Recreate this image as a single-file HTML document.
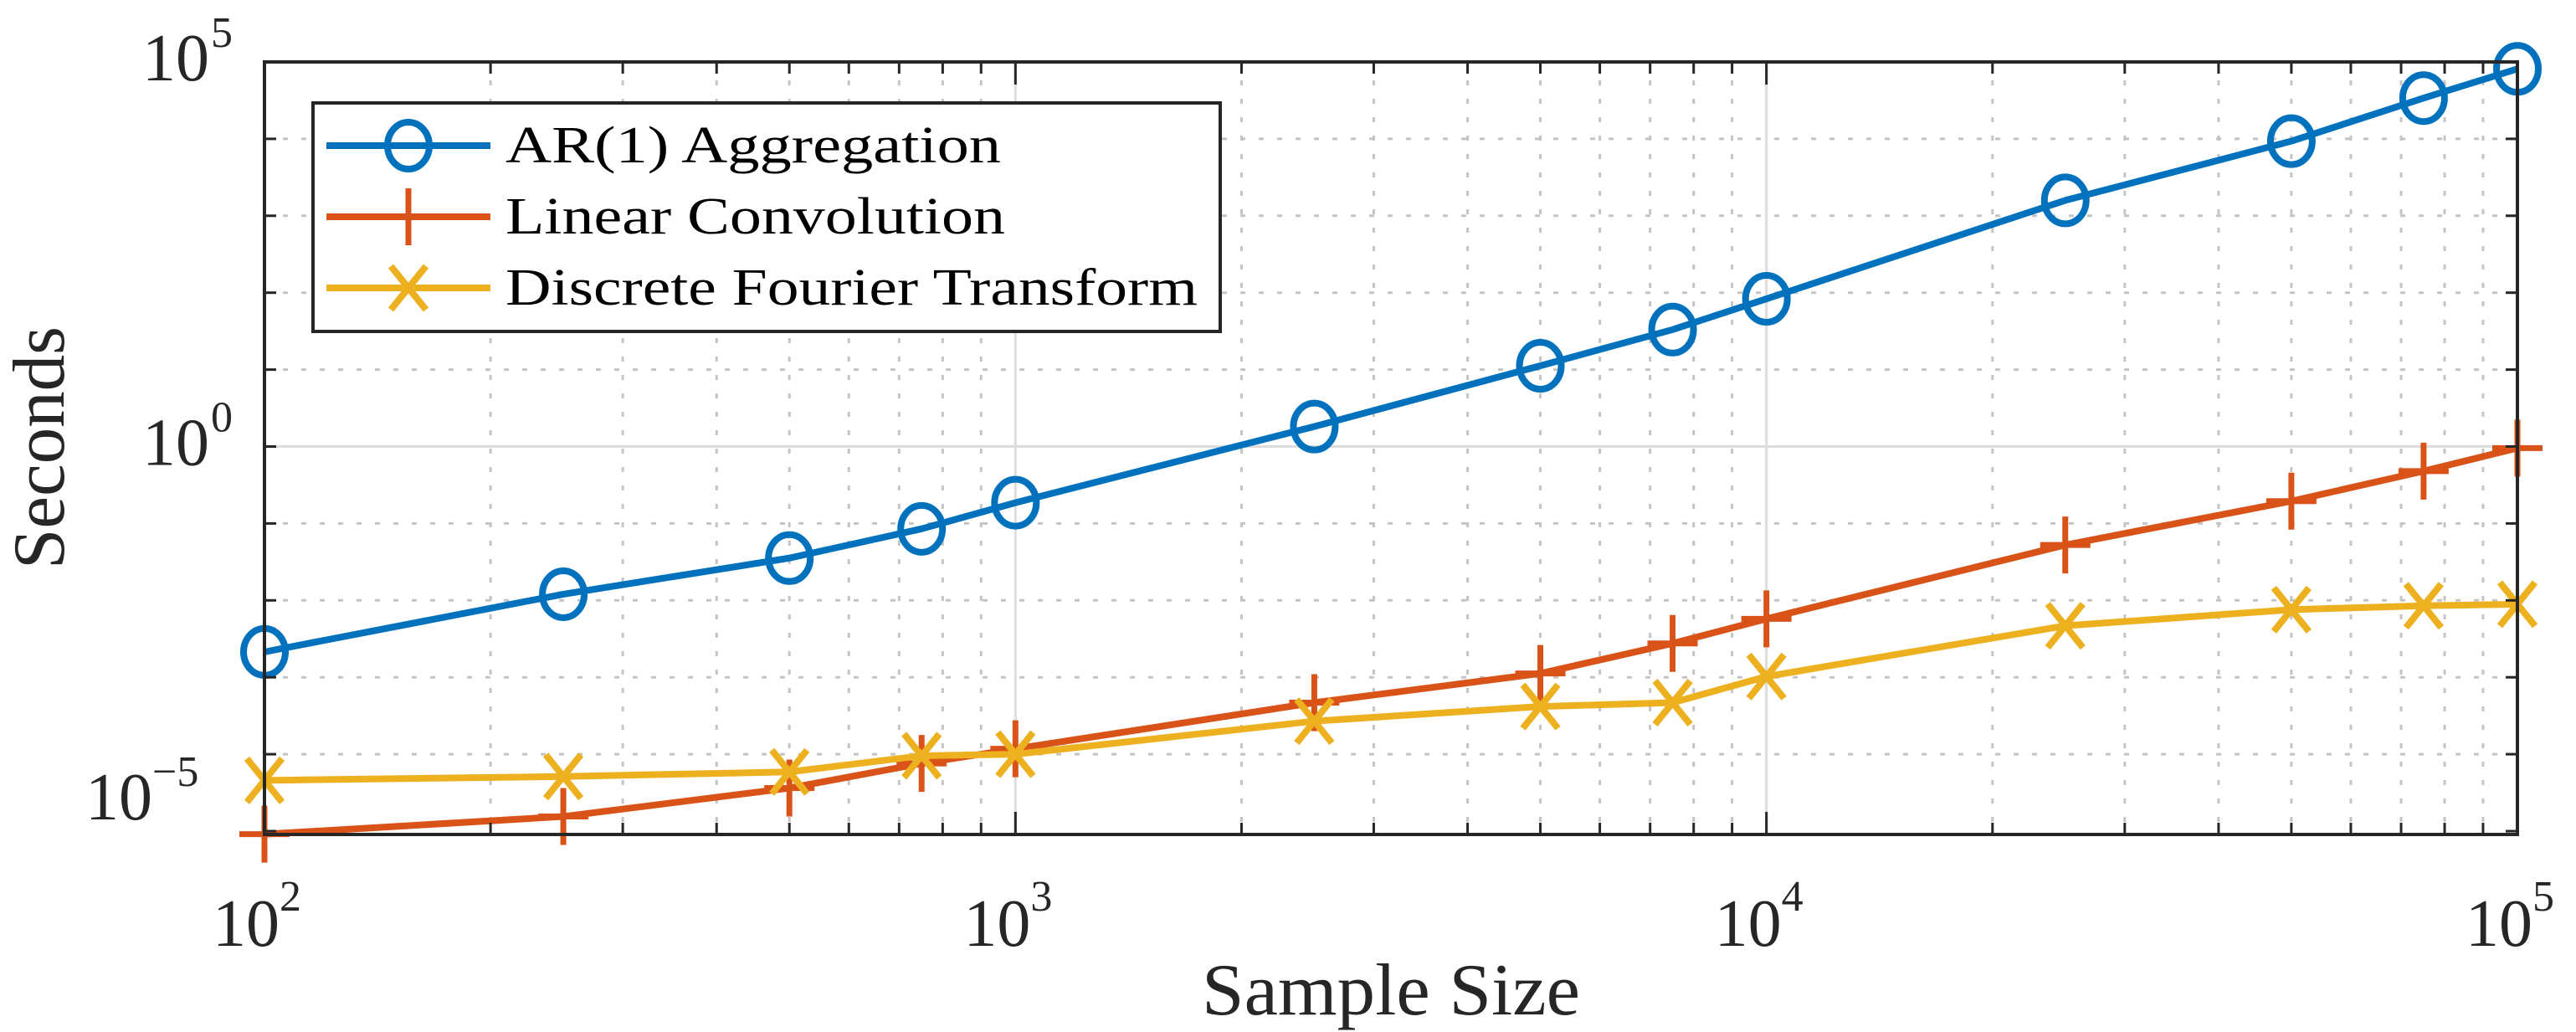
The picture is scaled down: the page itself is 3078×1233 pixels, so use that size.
<!DOCTYPE html>
<html><head><meta charset="utf-8"><style>body{margin:0;background:#fff}svg{display:block}</style></head>
<body>
<svg id="chart" width="3078" height="1233" viewBox="0 0 3078 1233" xmlns="http://www.w3.org/2000/svg" font-family="'Liberation Serif', serif">
<g id="grid"></g>
<g id="series"></g>
<g id="axes"></g>
<text x="1662" y="1212" font-size="88" text-anchor="middle" fill="#262626" textLength="452" lengthAdjust="spacingAndGlyphs">Sample Size</text>
<text transform="translate(76,535) rotate(-90)" font-size="88" text-anchor="middle" fill="#262626" textLength="290" lengthAdjust="spacingAndGlyphs">Seconds</text>
<g id="legend"></g>
</svg>
<script>
const sampleSizes = [100,250,500,750,1000,2500,5000,7500,10000,25000,50000,75000,100000];
const arLog = [-2.67,-1.92,-1.45,-1.07,-0.73,0.26,1.05,1.52,1.92,3.2,3.97,4.53,4.91];
const lcLog = [-5.04,-4.81,-4.44,-4.12,-3.93,-3.33,-2.95,-2.56,-2.24,-1.28,-0.71,-0.32,-0.02];
const dftLog = [-4.34,-4.29,-4.23,-4.02,-4.0,-3.57,-3.38,-3.33,-2.99,-2.33,-2.12,-2.07,-2.05];
const xTickLabels = ['2','3','4','5'];
const yTickLabels = ['-5','0','5'];
const seriesNames = ['AR(1) Aggregation','Linear Convolution','Discrete Fourier Transform'];

const NS='http://www.w3.org/2000/svg';
const L=316,R=3008,T=74,B=997;
function xs(v){return L+(Math.log10(v)-2)*(R-L)/3;}
function ys(lg){return T+(5-lg)*91.9;}
function mk(tag,attrs,parent){const e=document.createElementNS(NS,tag);for(const k in attrs)e.setAttribute(k,attrs[k]);parent.appendChild(e);return e;}
const grid=document.getElementById('grid'),axes=document.getElementById('axes'),ser=document.getElementById('series'),leg=document.getElementById('legend');

for(let d=2;d<5;d++){for(let m=1;m<=9;m++){const v=m*Math.pow(10,d);const x=xs(v);
  if(m===1){if(d>2){const g=mk('line',{x1:x,y1:T,x2:x,y2:B,stroke:'#dcdcdc','stroke-width':3},grid);}}
  else{const g=mk('line',{x1:x,y1:T,x2:x,y2:B,stroke:'#c4c4c4','stroke-width':3,'stroke-dasharray':'6 16'},grid);}
  const t1=mk('line',{x1:x,y1:B,x2:x,y2:B-(m===1?27:14),stroke:'#262626','stroke-width':3},axes);
  const t2=mk('line',{x1:x,y1:T,x2:x,y2:T+(m===1?27:14),stroke:'#262626','stroke-width':3},axes);
}}
for(let lg=-5;lg<=5;lg++){const y=ys(lg);
  if(lg%5===0){if(lg===0){const g=mk('line',{x1:L,y1:y,x2:R,y2:y,stroke:'#dcdcdc','stroke-width':3},grid);}}
  else{const g=mk('line',{x1:L,y1:y,x2:R,y2:y,stroke:'#c4c4c4','stroke-width':3,'stroke-dasharray':'6 16'},grid);}
  const t1=mk('line',{x1:L,y1:y,x2:L+14,y2:y,stroke:'#262626','stroke-width':3},axes);
  const t2=mk('line',{x1:R,y1:y,x2:R-14,y2:y,stroke:'#262626','stroke-width':3},axes);
}
const box=mk('rect',{x:L,y:T,width:R-L,height:B-T,fill:'none',stroke:'#262626','stroke-width':4},axes);


xTickLabels.forEach((p,i)=>{const x=L+i*(R-L)/3;
  const t=mk('text',{x:x-22,y:1130,'font-size':80,fill:'#262626','text-anchor':'middle'},axes);t.textContent='10';
  
  const s=mk('text',{x:x+18,y:1088,'font-size':52,fill:'#262626'},axes);s.textContent=p;
  
});
yTickLabels.forEach((p,i)=>{const lg=parseFloat(p);let y=ys(lg);if(lg===-5)y-=36;
  const t=mk('text',{x:p==='-5'?182:250,y:y+22,'font-size':80,fill:'#262626','text-anchor':'end'},axes);t.textContent='10';
  
  const s=mk('text',{x:p==='-5'?182:252,y:y-18,'font-size':52,fill:'#262626'},axes);s.textContent=p==='-5'?'\u22125':p;
  
});

const colors=['#0072BD','#D95319','#EDB120'];
function marker(kind,x,y,c,parent){
  if(kind===0){const m=mk('ellipse',{cx:x,cy:y,rx:25,ry:28,fill:'none',stroke:c,'stroke-width':8},parent);}
  else if(kind===1){const m=mk('path',{d:`M${x-30} ${y}H${x+30}M${x} ${y-34}V${y+34}`,stroke:c,'stroke-width':7},parent);}
  else{const m=mk('path',{d:`M${x-21} ${y-26}L${x+21} ${y+26}M${x-21} ${y+26}L${x+21} ${y-26}`,stroke:c,'stroke-width':8},parent);}
}
[arLog,lcLog,dftLog].forEach((vals,k)=>{
  const g=mk('g',{},ser);
  const pts=vals.map((v,i)=>xs(sampleSizes[i])+','+ys(v)).join(' ');
  const pl=mk('polyline',{points:pts,fill:'none',stroke:colors[k],'stroke-width':8,'stroke-linejoin':'round'},g);
  
  vals.forEach((v,i)=>marker(k,xs(sampleSizes[i]),ys(v),colors[k],g));
});
const lb=mk('rect',{x:374,y:123,width:1084,height:273,fill:'#fff',stroke:'#262626','stroke-width':4},leg);

seriesNames.forEach((n,k)=>{const y=174+k*85;
  const e=mk('g',{},leg);
  const ln=mk('line',{x1:390,y1:y,x2:586,y2:y,stroke:colors[k],'stroke-width':8},e);
  marker(k,488,y,colors[k],e);
  const t=mk('text',{x:604,y:y+20,'font-size':62,fill:'#000',textLength:[592,597,827][k],lengthAdjust:'spacingAndGlyphs'},e);t.textContent=n;
  
});
</script>
</body></html>
